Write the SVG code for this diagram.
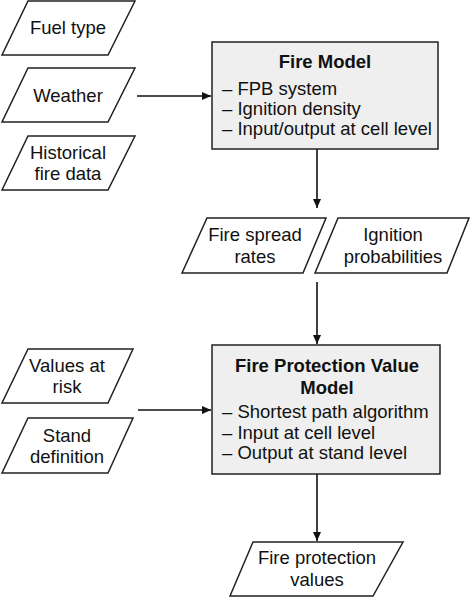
<svg xmlns="http://www.w3.org/2000/svg" width="474" height="597" viewBox="0 0 474 597">
<style>
.shape{fill:#fff;stroke:#222;stroke-width:1.5}
.box{fill:#efefef;stroke:#222;stroke-width:1.5}
text{font-family:"Liberation Sans",Arial,sans-serif;font-size:18.5px;fill:#111}
.c{text-anchor:middle}
.b{font-weight:bold}
.conn{stroke:#111;stroke-width:1.6;fill:none}
</style>
<defs>
<marker id="ah" markerWidth="10" markerHeight="10" refX="9" refY="4" orient="auto" markerUnits="userSpaceOnUse">
<path d="M0,0 L9,4 L0,8 Z" fill="#111"/>
</marker>
</defs>
<rect width="474" height="597" fill="#fff"/>
<g id="connectors">
<line class="conn" x1="137" y1="96" x2="211" y2="96" marker-end="url(#ah)"/>
<line class="conn" x1="317" y1="149" x2="317" y2="208" marker-end="url(#ah)"/>
<line class="conn" x1="317" y1="282" x2="317" y2="344" marker-end="url(#ah)"/>
<line class="conn" x1="138" y1="410" x2="211" y2="410" marker-end="url(#ah)"/>
<line class="conn" x1="317" y1="474" x2="317" y2="541" marker-end="url(#ah)"/>
</g>
<g id="fuel-type">
<polygon class="shape" points="28,1 135,1 108,55 2,55"/>
<text class="c" x="68" y="34">Fuel type</text>
</g>
<g id="weather">
<polygon class="shape" points="28,68 135,68 108,122 2,122"/>
<text class="c" x="68" y="102">Weather</text>
</g>
<g id="historical-fire-data">
<polygon class="shape" points="28,136 135,136 108,190 2,190"/>
<text class="c" x="68" y="159">Historical</text>
<text class="c" x="68" y="180">fire data</text>
</g>
<g id="fire-model">
<rect class="box" x="212" y="42" width="226" height="107"/>
<text class="c b" x="325" y="68">Fire Model</text>
<text x="222" y="95">– FPB system</text>
<text x="222" y="115">– Ignition density</text>
<text x="222" y="135">– Input/output at cell level</text>
</g>
<g id="fire-spread-rates">
<polygon class="shape" points="207,218 326,218 303,273 182,273"/>
<text class="c" x="255" y="241">Fire spread</text>
<text class="c" x="255" y="263">rates</text>
</g>
<g id="ignition-probabilities">
<polygon class="shape" points="338,218 469,218 447,273 315,273"/>
<text class="c" x="393" y="241">Ignition</text>
<text class="c" x="393" y="263">probabilities</text>
</g>
<g id="values-at-risk">
<polygon class="shape" points="28,349 133,349 108,403 2,403"/>
<text class="c" x="67" y="372">Values at</text>
<text class="c" x="67" y="393">risk</text>
</g>
<g id="stand-definition">
<polygon class="shape" points="28,418 133,418 108,473 2,473"/>
<text class="c" x="67" y="442">Stand</text>
<text class="c" x="67" y="463">definition</text>
</g>
<g id="fire-protection-value-model">
<rect class="box" x="212" y="345" width="228" height="129"/>
<text class="c b" x="327" y="372">Fire Protection Value</text>
<text class="c b" x="327" y="394">Model</text>
<text x="222" y="418">– Shortest path algorithm</text>
<text x="222" y="439">– Input at cell level</text>
<text x="222" y="459">– Output at stand level</text>
</g>
<g id="fire-protection-values">
<polygon class="shape" points="253,542 403,542 373,596 230,596"/>
<text class="c" x="317" y="564">Fire protection</text>
<text class="c" x="317" y="586">values</text>
</g>
</svg>
